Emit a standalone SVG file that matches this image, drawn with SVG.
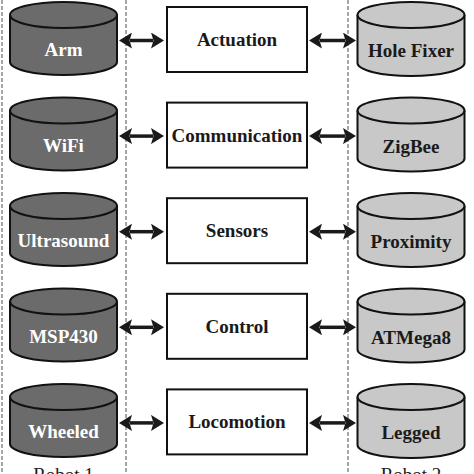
<svg xmlns="http://www.w3.org/2000/svg" width="474" height="474" viewBox="0 0 474 474">
<style>
.bg{fill:#ffffff}
.sep{stroke:#8a8a8a;stroke-width:1.5;stroke-dasharray:4 2;fill:none}
.dk{fill:#6b6b6b;stroke:#111;stroke-width:2}
.lt{fill:#c8c8c8;stroke:#111;stroke-width:2}
.box{fill:#ffffff;stroke:#111;stroke-width:2}
.t{font-family:"Liberation Serif","Times New Roman",serif;font-weight:bold;font-size:19px;text-anchor:middle}
.tw{fill:#ffffff}
.tb{fill:#1a1a1a}
.cap{font-family:"Liberation Serif","Times New Roman",serif;font-size:19px;text-anchor:middle;fill:#1a1a1a}
.arr{stroke:#1a1a1a;stroke-width:3.5;fill:none;marker-start:url(#ah);marker-end:url(#ah)}
</style>
<defs>
<marker id="ah" viewBox="0 0 13 16" refX="2" refY="8" markerWidth="13" markerHeight="16" markerUnits="userSpaceOnUse" orient="auto-start-reverse">
<path d="M0,0 L13,8 L0,16 L2.5,8 z" fill="#1a1a1a"/>
</marker>
<g id="cylD">
<path class="dk" d="M-53.5,0 L-53.5,47 A53.5,13 0 0 0 53.5,47 L53.5,0"/>
<ellipse class="dk" cx="0" cy="0" rx="53.5" ry="13"/>
</g>
<g id="cylL">
<path class="lt" d="M-53.5,0 L-53.5,48 A53.5,13 0 0 0 53.5,48 L53.5,0"/>
<ellipse class="lt" cx="0" cy="0" rx="53.5" ry="13"/>
</g>
</defs>
<rect class="bg" x="0" y="0" width="474" height="474"/>
<g id="separators">
<line class="sep" x1="2" y1="0" x2="2" y2="474"/>
<line class="sep" x1="126" y1="0" x2="126" y2="474"/>
<line class="sep" x1="348" y1="0" x2="348" y2="474"/>
</g>

<g id="robot1">
<g id="arm"><use href="#cylD" x="63.5" y="15"/><text class="t tw" x="63.5" y="56">Arm</text></g>
<g id="wifi"><use href="#cylD" x="63.5" y="110.5"/><text class="t tw" x="63.5" y="151.5">WiFi</text></g>
<g id="ultrasound"><use href="#cylD" x="63.5" y="206"/><text class="t tw" x="63.5" y="247">Ultrasound</text></g>
<g id="msp430"><use href="#cylD" x="63.5" y="301.5"/><text class="t tw" x="63.5" y="342.5">MSP430</text></g>
<g id="wheeled"><use href="#cylD" x="63.5" y="397"/><text class="t tw" x="63.5" y="438">Wheeled</text></g>
</g>

<g id="functions">
<g id="actuation"><rect class="box" x="167" y="7" width="140" height="65"/><text class="t tb" x="237" y="46">Actuation</text></g>
<g id="communication"><rect class="box" x="167" y="102.6" width="140" height="65"/><text class="t tb" x="237" y="141.6">Communication</text></g>
<g id="sensors"><rect class="box" x="167" y="198.2" width="140" height="65"/><text class="t tb" x="237" y="237.2">Sensors</text></g>
<g id="control"><rect class="box" x="167" y="293.8" width="140" height="65"/><text class="t tb" x="237" y="332.8">Control</text></g>
<g id="locomotion"><rect class="box" x="167" y="389.4" width="140" height="65"/><text class="t tb" x="237" y="428.4">Locomotion</text></g>
</g>

<g id="robot2">
<g id="holefixer"><use href="#cylL" x="411" y="15"/><text class="t tb" x="411" y="57">Hole Fixer</text></g>
<g id="zigbee"><use href="#cylL" x="411" y="110.5"/><text class="t tb" x="411" y="152.5">ZigBee</text></g>
<g id="proximity"><use href="#cylL" x="411" y="206"/><text class="t tb" x="411" y="248">Proximity</text></g>
<g id="atmega8"><use href="#cylL" x="411" y="301.5"/><text class="t tb" x="411" y="343.5">ATMega8</text></g>
<g id="legged"><use href="#cylL" x="411" y="397"/><text class="t tb" x="411" y="439">Legged</text></g>
</g>

<g id="connectors">
<line class="arr" x1="130" y1="40.5" x2="153" y2="40.5"/>
<line class="arr" x1="320" y1="40.5" x2="345" y2="40.5"/>
<line class="arr" x1="130" y1="136.1" x2="153" y2="136.1"/>
<line class="arr" x1="320" y1="136.1" x2="345" y2="136.1"/>
<line class="arr" x1="130" y1="231.7" x2="153" y2="231.7"/>
<line class="arr" x1="320" y1="231.7" x2="345" y2="231.7"/>
<line class="arr" x1="130" y1="327.3" x2="153" y2="327.3"/>
<line class="arr" x1="320" y1="327.3" x2="345" y2="327.3"/>
<line class="arr" x1="130" y1="422.9" x2="153" y2="422.9"/>
<line class="arr" x1="320" y1="422.9" x2="345" y2="422.9"/>
</g>

<g id="captions">
<text class="cap" x="63.5" y="481">Robot 1</text>
<text class="cap" x="411" y="481">Robot 2</text>
</g>
</svg>
